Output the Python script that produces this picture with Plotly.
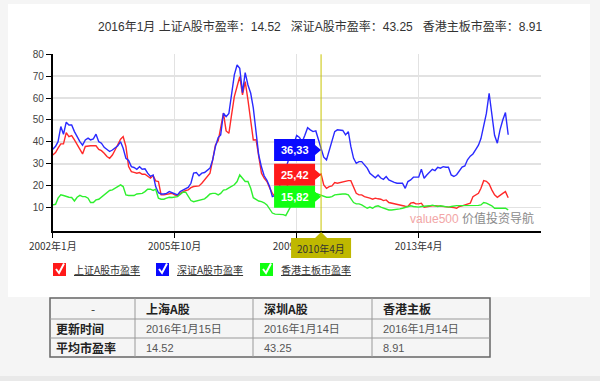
import pandas as pd
import plotly.graph_objects as go

# ---------------- data ----------------
start_month = "2002-01-01"
n_months = 169
months = pd.date_range(start_month, periods=n_months, freq="MS")

sz_pe = [  # 深证A股市盈率 (blue)
    36.6, 38.0, 40.1, 47.0, 43.5, 49.0, 47.7, 47.7, 44.7, 42.4, 40.1, 38.5,
    40.9, 41.7, 40.9, 41.4, 43.5, 40.1, 39.4, 37.5, 36.3, 35.6, 36.3, 37.1,
    38.2, 40.1, 37.1, 32.5, 31.5, 28.7, 28.3, 27.5, 28.7, 27.5, 27.7, 25.7,
    24.2, 24.9, 19.6, 16.8, 16.2, 16.2, 16.5, 17.3, 16.8, 16.2, 15.8, 17.3,
    18.1, 18.6, 19.2, 21.1, 25.7, 26.0, 24.5, 25.7, 26.0, 26.8, 28.0, 31.8,
    37.9, 42.0, 43.2, 53.1, 51.5, 53.0, 60.7, 70.6, 75.1, 73.6, 62.5, 71.6,
    66.0, 62.2, 55.5, 45.5, 34.0, 28.5, 24.5, 22.5, 19.5, 15.0, 15.5, 18.0,
    21.0, 24.0, 28.0, 32.0, 36.0, 40.0, 43.0, 42.0, 40.0, 43.0, 46.5, 45.5,
    44.7, 45.0, 40.9, 36.33, 33.0, 31.8, 36.3, 40.1, 44.7, 45.5, 45.2, 45.2,
    43.2, 44.7, 37.9, 32.5, 30.2, 31.0, 31.0, 29.5, 28.0, 25.7, 24.5, 23.6,
    24.9, 23.5, 22.9, 24.2, 22.6, 21.9, 21.5, 21.1, 21.1, 21.1, 18.8, 21.9,
    22.6, 23.9, 23.9, 23.9, 27.5, 23.4, 24.9, 26.4, 27.5, 26.9, 28.4, 28.0,
    28.7, 28.4, 28.4, 24.9, 24.2, 25.0, 27.0, 28.5, 29.0, 31.8, 33.5, 34.5,
    36.5, 38.5, 41.5, 47.0, 53.0, 62.2, 52.0, 43.0, 39.4, 45.5, 50.0, 53.4,
    43.25,
]
sh_pe = [  # 上证A股市盈率 (red)
    34.0, 35.1, 37.1, 39.1, 39.1, 44.2, 42.4, 42.9, 40.9, 38.6, 36.6, 34.5,
    37.9, 38.2, 38.2, 38.2, 38.2, 36.6, 36.0, 34.8, 33.3, 32.5, 34.0, 36.3,
    38.6, 41.2, 42.4, 37.9, 28.7, 26.4, 26.1, 25.7, 26.0, 25.2, 25.2, 24.2,
    23.4, 24.5, 22.2, 21.9, 15.8, 15.8, 16.1, 16.2, 16.5, 15.8, 15.3, 16.5,
    17.3, 17.8, 18.1, 19.1, 19.6, 19.9, 19.9, 21.1, 22.6, 24.0, 25.7, 31.8,
    38.6, 40.5, 47.0, 53.1, 45.0, 43.9, 52.3, 60.7, 65.3, 69.8, 61.5, 67.5,
    59.2, 50.0, 40.9, 41.0, 33.3, 25.7, 23.4, 21.9, 19.0, 16.5, 15.0, 15.5,
    16.0, 17.0, 19.0, 21.0, 23.0, 25.0, 27.0, 28.0, 26.0, 25.0, 27.0, 26.0,
    27.0, 25.5, 24.5, 25.42, 20.3, 18.8, 19.6, 19.9, 21.4, 21.1, 21.4, 21.9,
    22.3, 22.3, 22.3, 19.0, 16.5, 15.8, 15.8, 15.0, 14.8, 14.3, 13.8, 14.3,
    14.0, 13.8, 13.2, 13.5, 12.3, 12.0, 11.5, 11.2, 11.0, 10.8, 10.6, 10.5,
    12.0, 12.3, 11.7, 11.7, 12.0, 10.2, 10.5, 10.6, 10.8, 10.9, 10.8, 10.6,
    10.5, 10.5, 10.2, 10.2, 10.0, 9.7, 10.5, 10.8, 11.2, 11.5, 12.0, 15.0,
    15.8, 16.5, 18.8, 22.3, 22.0, 20.8, 18.1, 15.8, 14.7, 15.8, 16.5, 17.3,
    14.52,
]
hk_pe = [  # 香港主板市盈率 (green)
    11.2, 11.5, 14.3, 15.8, 15.5, 15.0, 14.7, 14.6, 13.0, 14.7, 15.6, 15.0,
    15.0, 14.3, 12.3, 12.3, 13.5, 13.8, 14.7, 15.8, 16.8, 17.8, 18.1, 18.8,
    19.6, 20.4, 19.6, 15.8, 15.5, 15.6, 15.5, 16.2, 16.5, 16.5, 17.3, 18.4,
    18.4, 17.8, 18.4, 14.3, 13.8, 13.8, 14.3, 14.7, 14.6, 14.7, 15.0, 16.0,
    17.0, 17.0, 15.0, 13.2, 12.7, 13.0, 13.3, 13.5, 14.0, 15.0, 16.2, 16.5,
    16.5, 15.8, 16.5, 18.0, 18.2, 19.0, 19.6, 20.4, 21.9, 24.9, 23.4, 21.9,
    21.9, 18.8, 14.5, 13.6, 13.0, 12.7, 12.2, 11.2, 9.0, 7.5, 7.0, 7.0,
    7.1, 6.8, 6.3, 9.0, 11.0, 13.0, 15.0, 16.0, 16.0, 16.5, 17.0, 16.5,
    17.0, 16.5, 16.0, 15.82, 15.0, 14.7, 14.7, 15.0, 15.8, 15.8, 16.1, 16.2,
    16.2, 15.8, 14.0, 12.3, 11.7, 11.7, 11.2, 10.5, 9.7, 10.2, 9.7, 10.5,
    10.8, 10.2, 9.7, 9.2, 8.9, 8.9, 9.0, 9.2, 9.4, 9.7, 10.0, 10.5,
    10.8, 10.5, 10.2, 10.2, 10.5, 10.5, 10.8, 10.8, 11.1, 10.8, 10.5, 10.8,
    10.5, 10.2, 10.2, 10.5, 10.8, 10.9, 10.9, 10.9, 10.8, 10.8, 10.8, 10.8,
    10.8, 11.0, 11.2, 12.3, 12.0, 11.5, 10.8, 9.7, 9.7, 9.7, 9.7, 9.7,
    8.91,
]

series_names = ["上证A股市盈率", "深证A股市盈率", "香港主板市盈率"]
series_values = [sh_pe, sz_pe, hk_pe]
series_colors = ["#ff2a2a", "#2a2aff", "#2ef02e"]

x_tick_vals = ["2002-01-01", "2005-10-01", "2009-07-01", "2013-04-01"]
x_tick_text = ["2002年1月", "2005年10月", "2009年7月", "2013年4月"]
y_tick_vals = [10, 20, 30, 40, 50, 60, 70, 80]

hover_month = "2010-04-01"
hover_month_label = "2010年4月"
hover_values = [25.42, 36.33, 15.82]          # sh, sz, hk
hover_texts = ["25,42", "36,33", "15,82"]

title_text = "2016年1月 上证A股市盈率：14.52   深证A股市盈率：43.25   香港主板市盈率：8.91"

table_header = ["-", "上海A股", "深圳A股", "香港主板"]
table_row_labels = ["更新时间", "平均市盈率"]
table_dates = ["2016年1月15日", "2016年1月14日", "2016年1月14日"]
table_pe = ["14.52", "43.25", "8.91"]

# ---------------- layout helpers ----------------
W, H = 600, 381
FONT = "Liberation Sans, Arial, Noto Sans CJK SC, sans-serif"
CJK = "Noto Sans CJK SC, Liberation Sans, sans-serif"


def px(x):
    return x / W


def py(y):
    return 1 - y / H


plot_left, plot_right = 52.8, 540.8
plot_top, plot_bottom = 54.3, 231.0

fig = go.Figure()

for name, vals, col in zip(series_names, series_values, series_colors):
    fig.add_trace(go.Scatter(x=months, y=vals, mode="lines", name=name,
                             line=dict(color=col, width=1.4),
                             hoverinfo="skip"))

shapes = []
annotations = []

# page panels
shapes.append(dict(type="rect", xref="paper", yref="paper", layer="below",
                   x0=px(8), x1=px(590), y0=py(297), y1=py(4),
                   fillcolor="white", line=dict(width=0)))
shapes.append(dict(type="rect", xref="paper", yref="paper", layer="below",
                   x0=0, x1=1, y0=0, y1=py(376),
                   fillcolor="#e9e9e9", line=dict(width=0)))

# crosshair
shapes.append(dict(type="line", xref="x", yref="paper", layer="above",
                   x0=hover_month, x1=hover_month,
                   y0=py(plot_bottom), y1=py(plot_top),
                   line=dict(color="#c8c400", width=1)))

# tooltip boxes (pixel-sized, anchored at the data point)
box_shift = {0: -1, 1: 0, 2: -2}
box_colors = ["#ff1a1a", "#0a0aff", "#10ff10"]
for i, (val, txt, col) in enumerate(zip(hover_values, hover_texts, box_colors)):
    s = box_shift[i]
    top, bot = 11 + s, -11 + s
    path = (f"M -47,{top} L -6,{top} L -6,{s+5} L 0,{s} L -6,{s-5} "
            f"L -6,{bot} L -47,{bot} Z")
    shapes.append(dict(type="path", xref="x", yref="y", layer="above",
                       xsizemode="pixel", ysizemode="pixel",
                       xanchor=hover_month, yanchor=val, path=path,
                       fillcolor=col, line=dict(width=0)))
    annotations.append(dict(x=hover_month, y=val, xref="x", yref="y",
                            text=f"<b>{txt}</b>", showarrow=False,
                            xanchor="center", yanchor="middle",
                            xshift=-26, yshift=s,
                            font=dict(family=FONT, size=11, color="white")))

# x-axis tooltip
shapes.append(dict(type="path", xref="x", yref="paper", layer="above",
                   xsizemode="pixel", ysizemode="pixel",
                   xanchor=hover_month, yanchor=py(plot_bottom),
                   path="M -30,-7 L -6,-7 L 0,-1 L 6,-7 L 30,-7 L 30,-27 L -30,-27 Z",
                   fillcolor="#bfb800", line=dict(width=0)))
annotations.append(dict(x=hover_month, y=py(plot_bottom), xref="x", yref="paper",
                        text=hover_month_label, showarrow=False,
                        xanchor="center", yanchor="middle", yshift=-17,
                        font=dict(family=CJK, size=10, color="#333")))

# title
annotations.append(dict(x=px(320), y=py(27), xref="paper", yref="paper",
                        text=title_text, showarrow=False,
                        xanchor="center", yanchor="middle",
                        font=dict(family=FONT, size=12, color="#333")))

# watermark
annotations.append(dict(x=px(536), y=py(218), xref="paper", yref="paper",
                        text="<span style='color:#f2a6a6'>value500</span> 价值投资导航",
                        showarrow=False, xanchor="right", yanchor="middle",
                        font=dict(family=FONT, size=12, color="#8a8a8a")))

# legend (checkbox style)
legend_box_x = [53, 156, 260]
for bx, name, col in zip(legend_box_x, series_names, box_colors):
    shapes.append(dict(type="rect", xref="paper", yref="paper",
                       x0=px(bx), x1=px(bx + 13), y0=py(276), y1=py(263),
                       fillcolor=col, line=dict(width=0)))
    shapes.append(dict(type="path", xref="paper", yref="paper",
                       path=(f"M {px(bx+3)},{py(269)} L {px(bx+6)},{py(273)} "
                             f"L {px(bx+11)},{py(263.5)}"),
                       line=dict(color="white", width=2)))
    annotations.append(dict(x=px(bx + 19), y=py(269.5), xref="paper", yref="paper",
                            text=f"<u>{name}</u>", showarrow=False,
                            xanchor="left", yanchor="middle",
                            font=dict(family=CJK, size=10, color="#333")))

# table
t_left, t_right = 50, 490
t_rows = [298, 319, 338, 357]
t_cols = [50, 135, 253, 372, 490]
shapes.append(dict(type="rect", xref="paper", yref="paper",
                   x0=px(t_left), x1=px(t_right), y0=py(t_rows[-1]), y1=py(t_rows[0]),
                   line=dict(color="#666", width=1.5), fillcolor="rgba(0,0,0,0)"))
for ry in t_rows[1:-1]:
    shapes.append(dict(type="line", xref="paper", yref="paper",
                       x0=px(t_left), x1=px(t_right), y0=py(ry), y1=py(ry),
                       line=dict(color="#999", width=1)))
for cx in t_cols[1:-1]:
    shapes.append(dict(type="line", xref="paper", yref="paper",
                       x0=px(cx), x1=px(cx), y0=py(t_rows[-1]), y1=py(t_rows[0]),
                       line=dict(color="#999", width=1)))

row_centers = [(t_rows[i] + t_rows[i + 1]) / 2 for i in range(3)]
annotations.append(dict(x=px((t_cols[0] + t_cols[1]) / 2), y=py(row_centers[0]),
                        xref="paper", yref="paper", text=table_header[0],
                        showarrow=False, xanchor="center", yanchor="middle",
                        font=dict(family=CJK, size=12, color="#333")))
for j, h in enumerate(table_header[1:]):
    annotations.append(dict(x=px(t_cols[j + 1] + 9), y=py(row_centers[0]),
                            xref="paper", yref="paper", text=f"<b>{h}</b>",
                            showarrow=False, xanchor="left", yanchor="middle",
                            font=dict(family=CJK, size=12, color="#222")))
for r, lab in enumerate(table_row_labels):
    annotations.append(dict(x=px(t_cols[0] + 4), y=py(row_centers[r + 1]),
                            xref="paper", yref="paper", text=f"<b>{lab}</b>",
                            showarrow=False, xanchor="left", yanchor="middle",
                            font=dict(family=CJK, size=12, color="#222")))
for j in range(3):
    for r, vals in enumerate([table_dates, table_pe]):
        annotations.append(dict(x=px(t_cols[j + 1] + 9), y=py(row_centers[r + 1]),
                                xref="paper", yref="paper", text=vals[j],
                                showarrow=False, xanchor="left", yanchor="middle",
                                font=dict(family=FONT, size=11, color="#555")))

fig.update_layout(
    width=W, height=H,
    margin=dict(l=0, r=0, t=0, b=0),
    paper_bgcolor="#f5f5f5",
    plot_bgcolor="white",
    showlegend=False,
    shapes=shapes,
    annotations=annotations,
    xaxis=dict(domain=[px(plot_left), px(plot_right)],
               range=["2002-01-01", "2017-01-01"], type="date",
               tickvals=x_tick_vals, ticktext=x_tick_text,
               showgrid=True, gridcolor="#e2e2e2", gridwidth=1,
               showline=True, linecolor="black", linewidth=2,
               ticks="outside", ticklen=5, tickcolor="black",
               tickfont=dict(family=CJK, size=10, color="#333"),
               zeroline=False, fixedrange=True, automargin=False),
    yaxis=dict(domain=[py(plot_bottom), py(plot_top)],
               range=[-0.7, 80], tickvals=y_tick_vals,
               showgrid=True, gridcolor="#e2e2e2", gridwidth=1.5,
               showline=True, linecolor="black", linewidth=2,
               ticks="outside", ticklen=5, tickcolor="black",
               tickfont=dict(family=FONT, size=10, color="#444"),
               zeroline=False, fixedrange=True, automargin=False),
)

fig.write_html("out.html",
               config={"displayModeBar": False, "staticPlot": True},
               post_script="document.body.style.margin='0';"
                           "document.body.style.overflow='hidden';")
